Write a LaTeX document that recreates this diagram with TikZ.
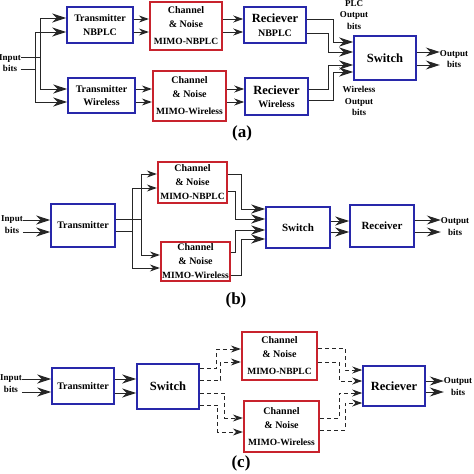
\documentclass[tikz,border=0pt]{standalone}
\usepackage{fontspec}
\setmainfont{Liberation Serif}
\usepackage{xcolor}
\usetikzlibrary{arrows.meta,positioning}

\definecolor{tblue}{RGB}{40,40,170}
\definecolor{cred}{RGB}{200,35,45}

\newcommand{\bigt}[1]{{\fontsize{12.5}{14}\selectfont #1}}
\newcommand{\mimo}[1]{{\fontsize{9.5}{11}\selectfont #1}}

\tikzset{
    blk/.style={draw=tblue, line width=1.6pt, fill=white, rectangle, align=center, inner sep=0pt,
        font=\bfseries\fontsize{10}{13.5}\selectfont},
    chn/.style={draw=cred, line width=2.2pt, fill=white, rectangle, align=center, inner sep=0pt,
        font=\bfseries\fontsize{10}{14}\selectfont},
    lbl/.style={align=center, inner sep=0pt, font=\bfseries\fontsize{9}{11.5}\selectfont},
    tag/.style={inner sep=0pt, font=\bfseries\fontsize{17}{20}\selectfont},
    wire/.style={line width=1pt, draw=black!85},
    arr/.style={wire, -{Stealth[length=14pt,width=9pt]}},
    sarr/.style={wire, -{Stealth[length=10pt,width=7pt]}},
    darr/.style={sarr, dash pattern=on 4pt off 3pt}
}

\begin{document}
\begin{tikzpicture}[x=1pt, y=-1pt]
    \useasboundingbox (0,0) rectangle (474,474);

    % (a) two separate links
    \node[lbl] (ina) at (10,63) {Input\\bits};
    \node[blk, minimum width=66pt, minimum height=36pt] (txa) at (100,25) {Transmitter\\NBPLC};
    \node[chn, minimum width=72pt, minimum height=48pt] (cha) at (186,26) {Channel\\\& Noise\\[3pt]\mimo{MIMO-NBPLC}};
    \node[blk, minimum width=62pt, minimum height=36pt] (rxa) at (275,25) {\bigt{Reciever}\\NBPLC};
    \node[blk, minimum width=67pt, minimum height=35pt] (twa) at (101.5,95.5) {Transmitter\\Wireless};
    \node[chn, minimum width=73pt, minimum height=50pt] (cwa) at (189.5,96) {Channel\\\& Noise\\[3pt]\mimo{MIMO-Wireless}};
    \node[blk, minimum width=63pt, minimum height=37pt] (rwa) at (276.5,96.5) {\bigt{Reciever}\\Wireless};
    \node[blk, minimum width=62pt, minimum height=44pt] (swa) at (385,58) {\bigt{Switch}};
    \node[lbl] (plc) at (354,15) {PLC\\Output\\bits};
    \node[lbl] (wlo) at (359,101) {Wireless\\Output\\bits};
    \node[lbl] (outa) at (454,59) {Output\\bits};
    \node[tag] (taga) at (242,133) {(a)};

    \draw[arr] ([yshift=6pt]ina.east) -- ++(20,0) |- ([yshift=7pt]txa.west);
    \draw[arr] ([yshift=6pt]ina.east) -- ++(20,0) |- ([yshift=6.5pt]twa.west);
    \draw[arr] ([yshift=-6pt]ina.east) -- ++(15,0) |- ([yshift=-7pt]txa.west);
    \draw[arr] ([yshift=-6pt]ina.east) -- ++(15,0) |- ([yshift=-6.5pt]twa.west);
    \draw[sarr] ([yshift=6pt]txa.east) -- ([yshift=6pt]txa.east -| cha.west);
    \draw[sarr] ([yshift=-7pt]txa.east) -- ([yshift=-7pt]txa.east -| cha.west);
    \draw[sarr] ([yshift=6.5pt]twa.east) -- ([yshift=6.5pt]twa.east -| cwa.west);
    \draw[sarr] ([yshift=-6.5pt]twa.east) -- ([yshift=-6.5pt]twa.east -| cwa.west);
    \draw[sarr] ([yshift=7pt]cha.east) -- ([yshift=7pt]cha.east -| rxa.west);
    \draw[sarr] ([yshift=-6pt]cha.east) -- ([yshift=-6pt]cha.east -| rxa.west);
    \draw[sarr] ([yshift=7pt]cwa.east) -- ([yshift=7pt]cwa.east -| rwa.west);
    \draw[sarr] ([yshift=-6pt]cwa.east) -- ([yshift=-6pt]cwa.east -| rwa.west);
    \draw[arr] ([yshift=6pt]rxa.east) -- ++(27,0) |- ([yshift=16pt]swa.west);
    \draw[arr] ([yshift=-8pt]rxa.east) -- ++(22,0) |- ([yshift=6pt]swa.west);
    \draw[arr] ([yshift=7.5pt]rwa.east) -- ++(20,0) |- ([yshift=-7pt]swa.west);
    \draw[arr] ([yshift=-3.5pt]rwa.east) -- ++(25,0) |- ([yshift=-14pt]swa.west);
    \draw[arr] ([yshift=6pt]swa.east) -- ([yshift=6pt]swa.east -| outa.west);
    \draw[arr] ([yshift=-7pt]swa.east) -- ([yshift=-7pt]swa.east -| outa.west);

    % (b) one transmitter, switch before receiver
    \node[lbl] (inb) at (12,224.5) {Input\\bits};
    \node[blk, minimum width=64pt, minimum height=43pt] (txb) at (83,225.5) {Transmitter};
    \node[chn, minimum width=69pt, minimum height=41pt] (chb) at (192.5,182.5) {Channel\\\& Noise\\\mimo{MIMO-NBPLC}};
    \node[chn, minimum width=69pt, minimum height=39pt] (cwb) at (195.5,261.5) {Channel\\\& Noise\\\mimo{MIMO-Wireless}};
    \node[blk, minimum width=64pt, minimum height=41pt] (swb) at (298,227.5) {\fontsize{11}{13}\selectfont Switch};
    \node[blk, minimum width=64pt, minimum height=42pt] (rcb) at (382,226) {\fontsize{11}{13}\selectfont Receiver};
    \node[lbl] (outb) at (455,226.5) {Output\\bits};
    \node[tag] (tagb) at (236,300) {(b)};

    \draw[arr] ([yshift=4.5pt]inb.east) -- ([yshift=4.5pt]inb.east -| txb.west);
    \draw[arr] ([yshift=-7.5pt]inb.east) -- ([yshift=-7.5pt]inb.east -| txb.west);
    \draw[sarr] ([yshift=6.5pt]txb.east) -- ++(26,0) |- ([yshift=8.5pt]chb.west);
    \draw[sarr] ([yshift=6.5pt]txb.east) -- ++(26,0) |- ([yshift=6.5pt]cwb.west);
    \draw[sarr] ([yshift=-5.5pt]txb.east) -- ++(17,0) |- ([yshift=-5.5pt]chb.west);
    \draw[sarr] ([yshift=-5.5pt]txb.east) -- ++(17,0) |- ([yshift=-6.5pt]cwb.west);
    \draw[arr] ([yshift=8.5pt]chb.east) -- ++(13,0) |- ([yshift=18.5pt]swb.west);
    \draw[arr] ([yshift=-8.5pt]chb.east) -- ++(7,0) |- ([yshift=8.5pt]swb.west);
    \draw[arr] ([yshift=9.5pt]cwb.east) -- ++(4,0) |- ([yshift=-2.5pt]swb.west);
    \draw[arr] ([yshift=-13.5pt]cwb.east) -- ++(10,0) |- ([yshift=-11.5pt]swb.west);
    \draw[arr] ([yshift=6.5pt]swb.east) -- ([yshift=6.5pt]swb.east -| rcb.west);
    \draw[arr] ([yshift=-4.5pt]swb.east) -- ([yshift=-4.5pt]swb.east -| rcb.west);
    \draw[arr] ([yshift=6pt]rcb.east) -- ([yshift=6pt]rcb.east -| outb.west);
    \draw[arr] ([yshift=-6pt]rcb.east) -- ([yshift=-6pt]rcb.east -| outb.west);

    % (c) switch right after the transmitter
    \node[lbl] (inc) at (11,383.5) {Input\\bits};
    \node[blk, minimum width=62pt, minimum height=36pt] (txc) at (83,386) {Transmitter};
    \node[blk, minimum width=62pt, minimum height=45pt] (swc) at (168,386.5) {\bigt{Switch}};
    \node[chn, minimum width=75pt, minimum height=48pt] (chc) at (279.5,356) {Channel\\\& Noise\\[3pt]\mimo{MIMO-NBPLC}};
    \node[chn, minimum width=75pt, minimum height=51pt] (cwc) at (281.5,426.5) {Channel\\\& Noise\\[3pt]\mimo{MIMO-Wireless}};
    \node[blk, minimum width=62pt, minimum height=40pt] (rcc) at (394,386) {\bigt{Reciever}};
    \node[lbl] (outc) at (458,386.5) {Output\\bits};
    \node[tag] (tagc) at (241,463) {(c)};

    \draw[arr] ([yshift=4.5pt]inc.east) -- ([yshift=4.5pt]inc.east -| txc.west);
    \draw[arr] ([yshift=-8.5pt]inc.east) -- ([yshift=-8.5pt]inc.east -| txc.west);
    \draw[arr] ([yshift=7pt]txc.east) -- ([yshift=7pt]txc.east -| swc.west);
    \draw[arr] ([yshift=-7pt]txc.east) -- ([yshift=-7pt]txc.east -| swc.west);
    \draw[darr] ([yshift=18.5pt]swc.east) -- ++(17,0) |- ([yshift=7pt]chc.west);
    \draw[darr] ([yshift=6.5pt]swc.east) -- ++(21,0) |- ([yshift=-6pt]chc.west);
    \draw[darr] ([yshift=-6.5pt]swc.east) -- ++(25,0) |- ([yshift=8.5pt]cwc.west);
    \draw[darr] ([yshift=-18.5pt]swc.east) -- ++(18,0) |- ([yshift=-5.5pt]cwc.west);
    \draw[darr] ([yshift=8pt]chc.east) -- ++(27,0) |- ([yshift=16pt]rcc.west);
    \draw[darr] ([yshift=-6pt]chc.east) -- ++(21,0) |- ([yshift=5pt]rcc.west);
    \draw[darr] ([yshift=8.5pt]cwc.east) -- ++(19,0) |- ([yshift=-7pt]rcc.west);
    \draw[darr] ([yshift=-3.5pt]cwc.east) -- ++(25,0) |- ([yshift=-17pt]rcc.west);
    \draw[arr] ([yshift=5pt]rcc.east) -- ([yshift=5pt]rcc.east -| outc.west);
    \draw[arr] ([yshift=-6pt]rcc.east) -- ([yshift=-6pt]rcc.east -| outc.west);
\end{tikzpicture}
\end{document}
